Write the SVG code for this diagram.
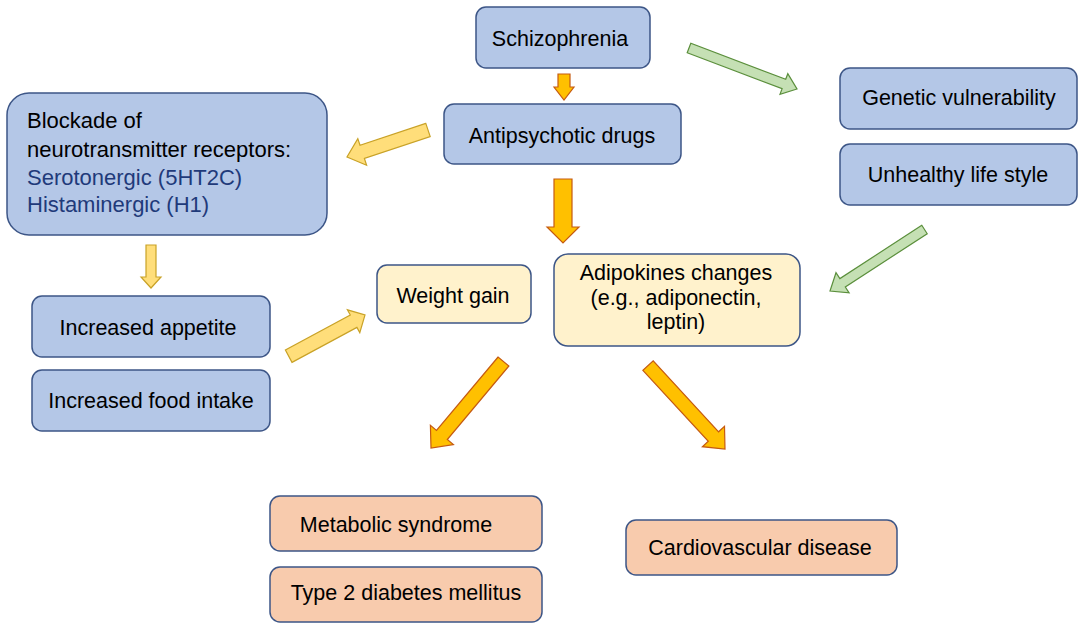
<svg xmlns="http://www.w3.org/2000/svg" width="1084" height="632" viewBox="0 0 1084 632">
<style>
text{font-family:"Liberation Sans",Arial,sans-serif;font-size:21.5px;fill:#000}
.c{text-anchor:middle}
.blue rect{fill:#b4c7e7;stroke:#3d5687;stroke-width:1.5}
.yel rect{fill:#fff2cc;stroke:#3d5687;stroke-width:1.5}
.org rect{fill:#f8cbad;stroke:#3d5687;stroke-width:1.5}
.ao{fill:#ffc000;stroke:#c55a11;stroke-width:1.2}
.ay{fill:#ffde7a;stroke:#c9a227;stroke-width:1.2}
.ag{fill:#c5e0b4;stroke:#5b8f3c;stroke-width:1.2}
.bt{fill:#1f3a7a}
</style>
<rect width="1084" height="632" fill="#fff"/>
<g id="connectors">
<polygon class="ao" points="558,74 570,74 570,87 574,87 564,100 554,87 558,87"/>
<polygon class="ao" points="554,179 572,179 572,227 579,227 563,243 547,227 554,227"/>
<polygon class="ag" points="687.2,52.7 782.1,88.7 780,94.3 797,89 787.8,73.7 785.7,79.3 690.8,43.3"/>
<polygon class="ag" points="921.8,225.3 839.9,278.6 836,272.7 830,291 849.1,292.9 845.3,287 927.2,233.7"/>
<polygon class="ay" points="425.8,123.4 360,145.3 357.8,138.6 347,157 366.6,165.2 364.4,158.5 430.2,136.6"/>
<polygon class="ay" points="146,245 156,245 156,277 161,277 151,288 141,277 146,277"/>
<polygon class="ay" points="292,362.4 356.9,327.4 359.8,332.6 365,315 347.4,309.8 350.3,315 285.4,350"/>
<polygon class="ao" points="498.1,357 436.5,430.5 430.4,425.4 431,448 453.4,444.6 447.3,439.5 508.9,366"/>
<polygon class="ao" points="642.9,370.3 708.3,441.3 702.4,446.7 725,449 724.5,426.3 718.6,431.8 653.2,360.8"/>
</g>
<g id="schizophrenia" class="blue"><rect x="476" y="7" width="174" height="61" rx="10"/><text class="c" x="560" y="46">Schizophrenia</text></g>
<g id="antipsychotic" class="blue"><rect x="444" y="104" width="237" height="60" rx="10"/><text class="c" x="562" y="143">Antipsychotic drugs</text></g>
<g id="genetic" class="blue"><rect x="840" y="68" width="237" height="61" rx="10"/><text class="c" x="959" y="105">Genetic vulnerability</text></g>
<g id="lifestyle" class="blue"><rect x="840" y="144" width="237" height="61" rx="10"/><text class="c" x="958" y="182">Unhealthy life style</text></g>
<g id="blockade" class="blue"><rect x="7" y="93" width="320" height="142" rx="22"/>
<text x="27" y="128" style="font-size:22px">Blockade of</text>
<text x="27" y="157" style="font-size:22px">neurotransmitter receptors:</text>
<text class="bt" x="27" y="185" style="font-size:22px">Serotonergic (5HT2C)</text>
<text class="bt" x="27" y="212" style="font-size:22px">Histaminergic (H1)</text></g>
<g id="appetite" class="blue"><rect x="32" y="296" width="238" height="61" rx="10"/><text class="c" x="148" y="335">Increased appetite</text></g>
<g id="food" class="blue"><rect x="32" y="370" width="238" height="61" rx="10"/><text class="c" x="151" y="408">Increased food intake</text></g>
<g id="weight" class="yel"><rect x="377" y="265" width="154" height="58" rx="10"/><text class="c" x="453" y="303">Weight gain</text></g>
<g id="adipokines" class="yel"><rect x="554" y="254" width="246" height="92" rx="14"/>
<text class="c" x="676" y="280">Adipokines changes</text>
<text class="c" x="676" y="305">(e.g., adiponectin,</text>
<text class="c" x="676" y="329">leptin)</text></g>
<g id="metabolic" class="org"><rect x="270" y="496" width="272" height="55" rx="10"/><text class="c" x="396" y="532">Metabolic syndrome</text></g>
<g id="diabetes" class="org"><rect x="270" y="567" width="272" height="55" rx="10"/><text class="c" x="406" y="600">Type 2 diabetes mellitus</text></g>
<g id="cardio" class="org"><rect x="626" y="520" width="271" height="55" rx="10"/><text class="c" x="760" y="555">Cardiovascular disease</text></g>
</svg>
